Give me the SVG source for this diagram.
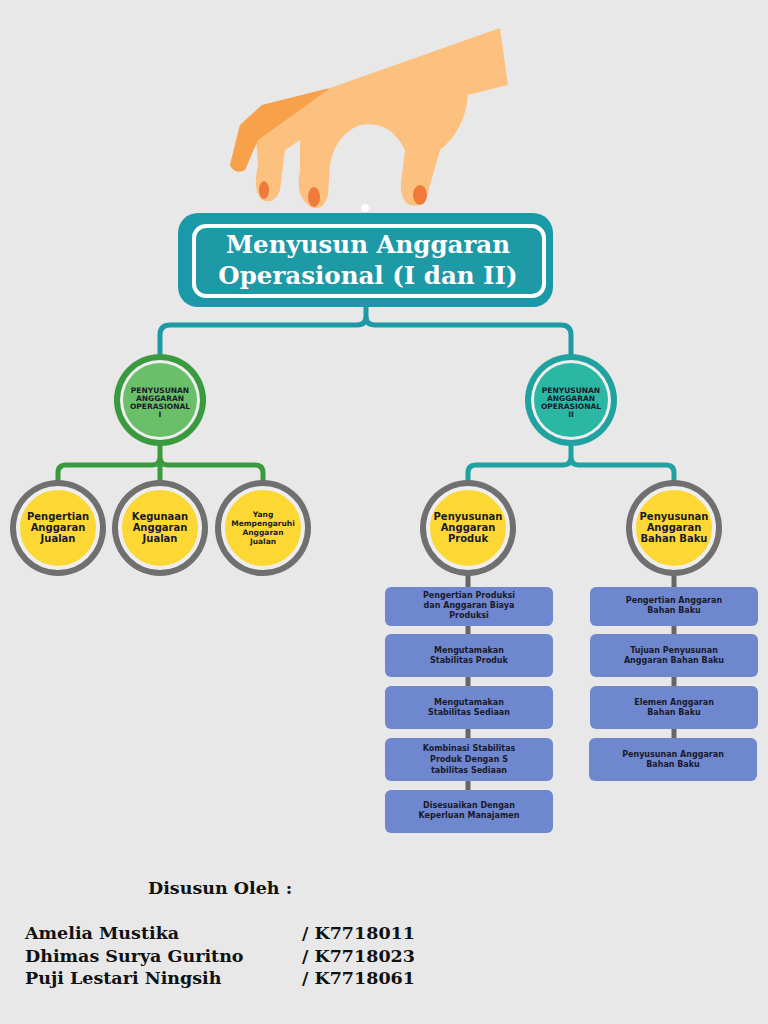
<svg xmlns="http://www.w3.org/2000/svg" width="768" height="1024" viewBox="0 0 768 1024">
<style>
.sm{font-family:"DejaVu Sans",sans-serif;font-weight:bold;fill:#1a1a2a;text-anchor:middle}
.ser{font-family:"DejaVu Serif","Liberation Serif",serif;font-weight:bold;fill:#111}
.box{fill:#6f87cf}
.yc{fill:#fdd835;stroke:#eee;stroke-width:4}
.yo{fill:#707070}
</style>
<rect width="768" height="1024" fill="#e8e8e8"/>
<g id="hand">
<path d="M262,105 L330,88 L500,28 L508,85 L468,95 Q465,130 440,150 L430,185 Q425,210 410,205 Q398,200 402,175 L405,150 Q390,120 360,125 Q335,135 330,165 L328,195 Q322,215 308,205 Q295,195 300,170 L300,140 L285,150 L280,190 Q275,205 262,200 Q252,190 258,165 L256,140 L245,170 Q235,175 230,165 L240,125 Z" fill="#fdc17f"/>
<path d="M262,105 L330,88 L300,110 L258,140 L245,170 Q235,175 230,165 L240,125 Z" fill="#f7a14a"/>
<ellipse cx="420" cy="195" rx="7" ry="10" fill="#f07a3a"/>
<ellipse cx="314" cy="197" rx="6" ry="10" fill="#f07a3a"/>
<ellipse cx="264" cy="190" rx="5" ry="9" fill="#f07a3a"/>
<circle cx="365" cy="208" r="4" fill="#fff"/>
</g>
<g id="connectors" fill="none">
<path d="M366,306 V316 Q366,325 357,325 H170 Q160,325 160,335 V355 M366,316 Q366,325 375,325 H561 Q571,325 571,335 V355" stroke="#1e9aa6" stroke-width="5"/>
<path d="M160,445 V457 Q160,465 152,465 H66 Q58,465 58,473 V485 M160,457 Q160,465 168,465 H255 Q263,465 263,473 V485 M160,465 V485" stroke="#3a9a3f" stroke-width="5"/>
<path d="M571,445 V457 Q571,465 563,465 H476 Q468,465 468,473 V485 M571,457 Q571,465 579,465 H666 Q674,465 674,473 V485" stroke="#20a2a0" stroke-width="5"/>
<path d="M468,572 V795 M674,572 V745" stroke="#666" stroke-width="5"/>
</g>
<g id="title">
<rect x="178" y="213" width="375" height="94" rx="20" fill="#1a9aa8"/>
<rect x="194" y="226" width="350" height="70" rx="12" fill="#1e9aa6" stroke="#fff" stroke-width="4"/>
<text x="368" y="253" text-anchor="middle" class="ser" style="fill:#fff;font-size:24.5px">Menyusun Anggaran</text>
<text x="368" y="284" text-anchor="middle" class="ser" style="fill:#fff;font-size:24.5px">Operasional (I dan II)</text>
</g>
<g id="op1">
<circle cx="160" cy="400" r="46" fill="#3a9a3f"/>
<circle cx="160" cy="400" r="40" fill="#eee"/>
<circle cx="160" cy="400" r="37" fill="#6abf69"/>
<text class="sm" font-size="7.5"><tspan x="160" y="393">PENYUSUNAN</tspan><tspan x="160" y="401">ANGGARAN</tspan><tspan x="160" y="409">OPERASIONAL</tspan><tspan x="160" y="417">I</tspan></text>
</g>
<g id="op2">
<circle cx="571" cy="400" r="46" fill="#20a2a0"/>
<circle cx="571" cy="400" r="40" fill="#eee"/>
<circle cx="571" cy="400" r="37" fill="#2ab8a4"/>
<text class="sm" font-size="7.5"><tspan x="571" y="393">PENYUSUNAN</tspan><tspan x="571" y="401">ANGGARAN</tspan><tspan x="571" y="409">OPERASIONAL</tspan><tspan x="571" y="417">II</tspan></text>
</g>
<g id="c1"><circle class="yo" cx="58" cy="528" r="48"/><circle class="yc" cx="58" cy="528" r="40"/>
<text class="sm" font-size="10"><tspan x="58" y="520">Pengertian</tspan><tspan x="58" y="531">Anggaran</tspan><tspan x="58" y="542">Jualan</tspan></text></g>
<g id="c2"><circle class="yo" cx="160" cy="528" r="48"/><circle class="yc" cx="160" cy="528" r="40"/>
<text class="sm" font-size="10"><tspan x="160" y="520">Kegunaan</tspan><tspan x="160" y="531">Anggaran</tspan><tspan x="160" y="542">Jualan</tspan></text></g>
<g id="c3"><circle class="yo" cx="263" cy="528" r="48"/><circle class="yc" cx="263" cy="528" r="40"/>
<text class="sm" font-size="7.5"><tspan x="263" y="517">Yang</tspan><tspan x="263" y="526">Mempengaruhi</tspan><tspan x="263" y="535">Anggaran</tspan><tspan x="263" y="544">Jualan</tspan></text></g>
<g id="c4"><circle class="yo" cx="468" cy="528" r="48"/><circle class="yc" cx="468" cy="528" r="40"/>
<text class="sm" font-size="10"><tspan x="468" y="520">Penyusunan</tspan><tspan x="468" y="531">Anggaran</tspan><tspan x="468" y="542">Produk</tspan></text></g>
<g id="c5"><circle class="yo" cx="674" cy="528" r="48"/><circle class="yc" cx="674" cy="528" r="40"/>
<text class="sm" font-size="10"><tspan x="674" y="520">Penyusunan</tspan><tspan x="674" y="531">Anggaran</tspan><tspan x="674" y="542">Bahan Baku</tspan></text></g>
<g id="b1"><rect class="box" x="385" y="587" width="168" height="39" rx="6"/><text class="sm" font-size="8"><tspan x="469" y="598">Pengertian Produksi</tspan><tspan x="469" y="608">dan Anggaran Biaya</tspan><tspan x="469" y="618">Produksi</tspan></text></g>
<g id="b2"><rect class="box" x="385" y="634" width="168" height="43" rx="6"/><text class="sm" font-size="8"><tspan x="469" y="653">Mengutamakan</tspan><tspan x="469" y="663">Stabilitas Produk</tspan></text></g>
<g id="b3"><rect class="box" x="385" y="686" width="168" height="43" rx="6"/><text class="sm" font-size="8"><tspan x="469" y="705">Mengutamakan</tspan><tspan x="469" y="715">Stabilitas Sediaan</tspan></text></g>
<g id="b4"><rect class="box" x="385" y="738" width="168" height="43" rx="6"/><text class="sm" font-size="8"><tspan x="469" y="751">Kombinasi Stabilitas</tspan><tspan x="469" y="762">Produk Dengan S</tspan><tspan x="469" y="773">tabilitas Sediaan</tspan></text></g>
<g id="b5"><rect class="box" x="385" y="790" width="168" height="43" rx="6"/><text class="sm" font-size="8"><tspan x="469" y="808">Disesuaikan Dengan</tspan><tspan x="469" y="818">Keperluan Manajamen</tspan></text></g>
<g id="r1"><rect class="box" x="590" y="587" width="168" height="39" rx="6"/><text class="sm" font-size="8"><tspan x="674" y="603">Pengertian Anggaran</tspan><tspan x="674" y="613">Bahan Baku</tspan></text></g>
<g id="r2"><rect class="box" x="590" y="634" width="168" height="43" rx="6"/><text class="sm" font-size="8"><tspan x="674" y="653">Tujuan Penyusunan</tspan><tspan x="674" y="663">Anggaran Bahan Baku</tspan></text></g>
<g id="r3"><rect class="box" x="590" y="686" width="168" height="43" rx="6"/><text class="sm" font-size="8"><tspan x="674" y="705">Elemen Anggaran</tspan><tspan x="674" y="715">Bahan Baku</tspan></text></g>
<g id="r4"><rect class="box" x="589" y="738" width="168" height="43" rx="6"/><text class="sm" font-size="8"><tspan x="673" y="757">Penyusunan Anggaran</tspan><tspan x="673" y="767">Bahan Baku</tspan></text></g>
<g id="credits" class="ser" font-size="17.5">
<text x="148" y="894">Disusun Oleh :</text>
<text x="25" y="939">Amelia Mustika</text>
<text x="25" y="962">Dhimas Surya Guritno</text>
<text x="25" y="984">Puji Lestari Ningsih</text>
<text x="302" y="939">/ K7718011</text>
<text x="302" y="962">/ K7718023</text>
<text x="302" y="984">/ K7718061</text>
</g>
</svg>
